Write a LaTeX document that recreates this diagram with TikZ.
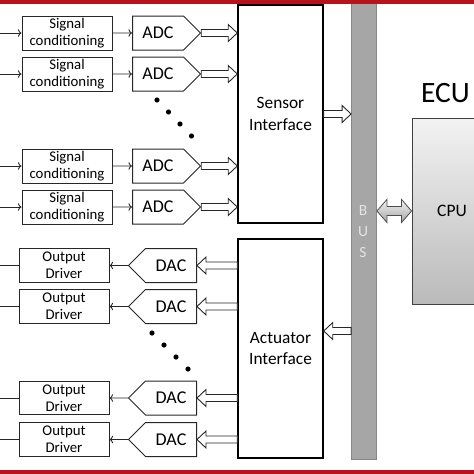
\documentclass[tikz,border=0pt]{standalone}
\usepackage{fontspec}
\setmainfont{Carlito}
\usetikzlibrary{shapes.symbols,calc,arrows.meta}
\definecolor{barred}{RGB}{185,18,28}
\definecolor{busgray}{RGB}{166,166,166}
\definecolor{busedge}{RGB}{135,135,135}
\begin{document}
\begin{tikzpicture}[x=1pt,y=-1pt,
    box/.style={draw=black!85, line width=1pt, minimum width=90pt, minimum height=34pt,
        inner sep=0pt, align=center, font=\fontsize{14.8}{16.7}\selectfont},
    conv/.style={draw=black!85, line width=1pt, shape=signal, signal pointer angle=90,
        minimum height=34pt, minimum width=68pt, inner sep=0pt, font=\fontsize{18}{20}\selectfont},
    iface/.style={draw, line width=1.5pt, minimum width=85pt, align=center,
        font=\fontsize{17.3}{21.5}\selectfont},
    wire/.style={line width=0.9pt, draw=black!85},
    hollow/.style={draw=black!85, line width=0.9pt, fill=white, to path={
        let \p1=($(\tikztotarget)!9pt!(\tikztostart)$) in
        ($(\tikztostart)!3.5pt!90:(\tikztotarget)$) -- ($(\p1)!3.5pt!-90:(\tikztostart)$)
        -- ($(\p1)!8.5pt!-90:(\tikztostart)$) -- (\tikztotarget)
        -- ($(\p1)!8.5pt!90:(\tikztostart)$) -- ($(\p1)!3.5pt!90:(\tikztostart)$)
        -- ($(\tikztostart)!3.5pt!-90:(\tikztotarget)$) -- cycle}},
    dblarrow/.style={draw=black!70, line width=0.8pt, top color=black!5, bottom color=black!35, to path={
        let \p1=($(\tikztostart)!10pt!(\tikztotarget)$), \p2=($(\tikztotarget)!10pt!(\tikztostart)$) in
        (\tikztostart) -- ($(\p1)!11.5pt!90:(\tikztotarget)$) -- ($(\p1)!4.5pt!90:(\tikztotarget)$)
        -- ($(\p2)!4.5pt!-90:(\tikztostart)$) -- ($(\p2)!11.5pt!-90:(\tikztostart)$) -- (\tikztotarget)
        -- ($(\p2)!11.5pt!90:(\tikztostart)$) -- ($(\p2)!4.5pt!90:(\tikztostart)$)
        -- ($(\p1)!4.5pt!-90:(\tikztotarget)$) -- ($(\p1)!11.5pt!-90:(\tikztotarget)$) -- cycle}}
]
\clip (0,0) rectangle (474,474);

% sensor side
\coordinate (in1) at (0,33);
\coordinate (in2) at (0,74);
\coordinate (in3) at (0,166);
\coordinate (in4) at (0,207);
\node[box] (sc1) at (67,33) {Signal\\conditioning};
\node[box] (sc2) at (67,74) {Signal\\conditioning};
\node[box] (sc3) at (67,166) {Signal\\conditioning};
\node[box] (sc4) at (67,207) {Signal\\conditioning};
\node[conv, signal to=east, anchor=west] (adc1) at (132,33) {ADC};
\node[conv, signal to=east, anchor=west] (adc2) at (132,74) {ADC};
\node[conv, signal to=east, anchor=west] (adc3) at (132,166) {ADC};
\node[conv, signal to=east, anchor=west] (adc4) at (132,207) {ADC};
\node[iface, minimum height=218pt] (sensor) at (280.5,114) {Sensor\\Interface};

\draw[wire,->] (in1) -- (sc1);
\draw[wire,->] (in2) -- (sc2);
\draw[wire,->] (in3) -- (sc3);
\draw[wire,->] (in4) -- (sc4);
\draw[wire,->] (sc1) -- (adc1);
\draw[wire,->] (sc2) -- (adc2);
\draw[wire,->] (sc3) -- (adc3);
\draw[wire,->] (sc4) -- (adc4);
\draw[hollow] (adc1.east) to (adc1.east -| sensor.west);
\draw[hollow] (adc2.east) to (adc2.east -| sensor.west);
\draw[hollow] (adc3.east) to (adc3.east -| sensor.west);
\draw[hollow] (adc4.east) to (adc4.east -| sensor.west);

\fill (157,100) circle (2.6pt);
\fill (168.5,112) circle (2.6pt);
\fill (180,124) circle (2.6pt);
\fill (191.5,136) circle (2.6pt);

% actuator side
\coordinate (out1) at (0,265.5);
\coordinate (out2) at (0,306.5);
\coordinate (out3) at (0,398);
\coordinate (out4) at (0,439.5);
\node[box, minimum height=33.5pt] (od1) at (64,265.5) {Output\\Driver};
\node[box, minimum height=33.5pt] (od2) at (64,306.5) {Output\\Driver};
\node[box, minimum height=33.5pt] (od3) at (64,398) {Output\\Driver};
\node[box, minimum height=33.5pt] (od4) at (64,439.5) {Output\\Driver};
\node[conv, signal to=west, anchor=east] (dac1) at (197,265.5) {DAC};
\node[conv, signal to=west, anchor=east] (dac2) at (197,306.5) {DAC};
\node[conv, signal to=west, anchor=east] (dac3) at (197,398) {DAC};
\node[conv, signal to=west, anchor=east] (dac4) at (197,439.5) {DAC};
\node[iface, minimum height=219pt] (act) at (280.5,348.5) {Actuator\\Interface};
\coordinate (actin) at ([yshift=17.5pt]act.east);

\draw[wire] (od1) -- (out1);
\draw[wire] (od2) -- (out2);
\draw[wire] (od3) -- (out3);
\draw[wire] (od4) -- (out4);
\draw[wire,->] (dac1) -- (od1);
\draw[wire,->] (dac2) -- (od2);
\draw[wire,->] (dac3) -- (od3);
\draw[wire,->] (dac4) -- (od4);
\draw[hollow] (act.west |- dac1.east) to (dac1.east);
\draw[hollow] (act.west |- dac2.east) to (dac2.east);
\draw[hollow] (act.west |- dac3.east) to (dac3.east);
\draw[hollow] (act.west |- dac4.east) to (dac4.east);

\fill (152,333) circle (2.6pt);
\fill (164,345) circle (2.6pt);
\fill (176,357) circle (2.6pt);
\fill (188,369) circle (2.6pt);

% bus and ECU
\node[fill=busgray, draw=busedge, line width=0.8pt, minimum width=25pt, minimum height=458pt] (bus) at (364,230) {};
\node[text=black!10, align=center, font=\fontsize{15.5}{21}\selectfont] (buslbl) at (363,231.7) {B\\U\\S};
\node[font=\fontsize{29.5}{32}\selectfont] (ecu) at (445.5,93) {ECU};
\node[draw=black!75, line width=0.9pt, top color=black!5, bottom color=black!27, minimum width=80pt,
    minimum height=186pt, font=\fontsize{17.5}{20}\selectfont] (cpu) at (452,211) {CPU};

\draw[hollow] (sensor.east) to (sensor.east -| bus.west);
\draw[hollow] (actin -| bus.west) to (actin);
\draw[dblarrow] (bus.east |- cpu.west) to (cpu.west);

\fill[barred] (0,0) rectangle (474,3.5);
\fill[barred] (0,469.5) rectangle (474,474);
\end{tikzpicture}
\end{document}
